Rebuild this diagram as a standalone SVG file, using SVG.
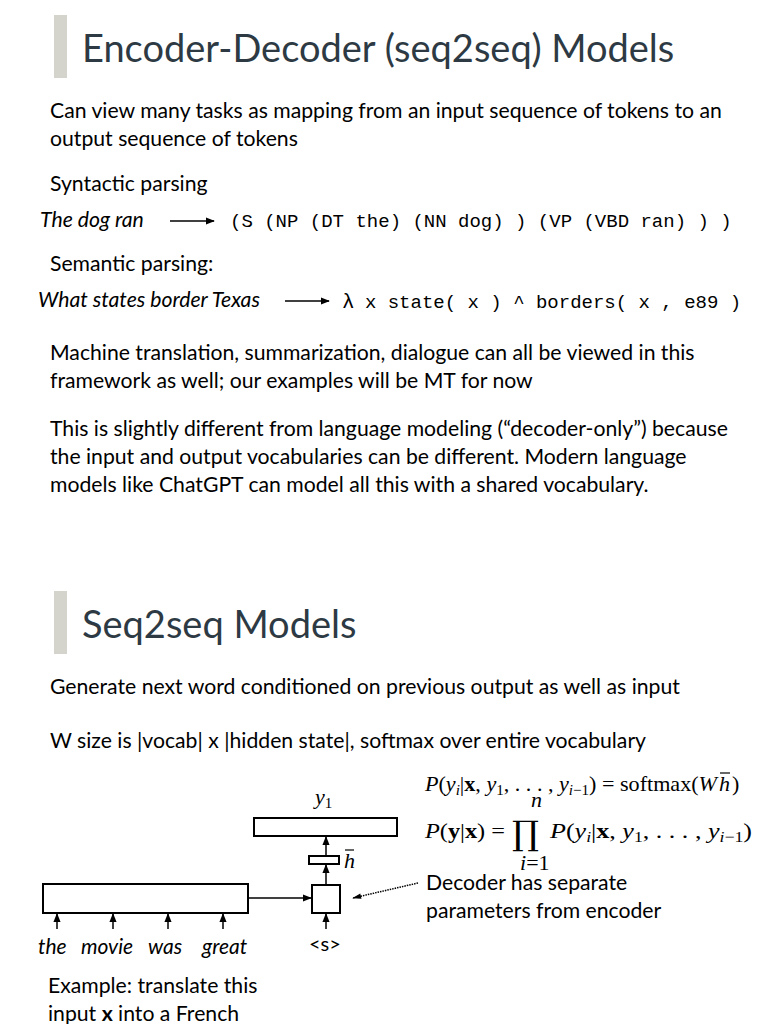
<svg xmlns="http://www.w3.org/2000/svg" width="768" height="1024" viewBox="0 0 768 1024">
<defs>
<marker id="ah" viewBox="0 0 10 10" refX="9" refY="5" markerWidth="6" markerHeight="6" orient="auto"><path d="M0,1 L10,5 L0,9 z" fill="#000"/></marker>
<marker id="ah2" viewBox="0 0 10 10" refX="9" refY="5" markerWidth="8" markerHeight="6" orient="auto"><path d="M0,2 L10,5 L0,8 z" fill="#000"/></marker>
</defs>
<style>
.t{font-family:Lato,"Open Sans",sans-serif;fill:#000}
.h{font-family:Lato,"Open Sans",sans-serif;font-size:38px;fill:#2d3a44}
.b{font-size:21.2px}
.i{font-style:italic}
.m{font-family:"Liberation Mono",monospace;font-size:19px}
.x{font-family:"Liberation Serif",serif;font-size:22px}
.bx{fill:#fff;stroke:#000;stroke-width:2}
.c{stroke:#000;stroke-width:1.5;fill:none}
</style>
<rect width="768" height="1024" fill="#fff"/>
<rect x="54" y="15" width="13" height="63" fill="#d4d4cc"/>
<text class="h" x="82" y="62">Encoder-Decoder (seq2seq) Models</text>
<text class="t b" x="50" y="118">Can view many tasks as mapping from an input sequence of tokens to an</text>
<text class="t b" x="50" y="146">output sequence of tokens</text>
<text class="t b" x="50" y="191">Syntactic parsing</text>
<text class="t b i" x="40" y="227">The dog ran</text>
<line class="c" x1="170" y1="221" x2="214" y2="221" marker-end="url(#ah)"/>
<text class="t m" x="230" y="227">(S (NP (DT the) (NN dog) ) (VP (VBD ran) ) )</text>
<text class="t b" x="50" y="271">Semantic parsing:</text>
<text class="t b i" x="38" y="307">What states border Texas</text>
<line class="c" x1="285" y1="301" x2="329" y2="301" marker-end="url(#ah)"/>
<text class="t m" x="343" y="308" font-size="20"><tspan font-family="Liberation Sans,sans-serif" font-size="21">λ</tspan> x state( x ) ^ borders( x , e89 )</text>
<text class="t b" x="50" y="360">Machine translation, summarization, dialogue can all be viewed in this</text>
<text class="t b" x="50" y="388">framework as well; our examples will be MT for now</text>
<text class="t b" x="50" y="436">This is slightly different from language modeling (“decoder-only”) because</text>
<text class="t b" x="50" y="464">the input and output vocabularies can be different. Modern language</text>
<text class="t b" x="50" y="492">models like ChatGPT can model all this with a shared vocabulary.</text>
<rect x="54" y="591" width="13" height="63" fill="#d4d4cc"/>
<text class="h" x="82" y="638">Seq2seq Models</text>
<text class="t b" x="50" y="694">Generate next word conditioned on previous output as well as input</text>
<text class="t b" x="50" y="748">W size is |vocab| x |hidden state|, softmax over entire vocabulary</text>
<g id="formulas">
<text class="t x" x="425" y="791" textLength="292" lengthAdjust="spacingAndGlyphs"><tspan font-style="italic">P</tspan>(<tspan font-style="italic">y</tspan><tspan font-size="15" font-style="italic" dy="4">i</tspan><tspan dy="-4">|</tspan><tspan font-weight="bold">x</tspan>, <tspan font-style="italic">y</tspan><tspan font-size="15" dy="4">1</tspan><tspan dy="-4">, . . . , </tspan><tspan font-style="italic">y</tspan><tspan font-size="15" dy="4" font-style="italic">i</tspan><tspan font-size="15">−1</tspan><tspan dy="-4">) = softmax(</tspan><tspan font-style="italic">W</tspan></text>
<text class="t x i" x="719" y="791">h</text>
<line x1="720" y1="773" x2="730" y2="773" stroke="#000" stroke-width="1.2"/>
<text class="t x" x="732" y="791">)</text>
<text class="t x" x="425" y="838" textLength="80" lengthAdjust="spacingAndGlyphs"><tspan font-style="italic">P</tspan>(<tspan font-weight="bold">y</tspan>|<tspan font-weight="bold">x</tspan>) =</text>
<text x="512" y="845" font-family="DejaVu Serif,serif" font-size="34">∏</text>
<text class="t x i" x="531" y="807" font-size="15">n</text>
<text class="t x" x="520" y="870" font-size="15"><tspan font-style="italic">i</tspan>=1</text>
<text class="t x" x="550" y="838" textLength="202" lengthAdjust="spacingAndGlyphs"><tspan font-style="italic">P</tspan>(<tspan font-style="italic">y</tspan><tspan font-size="15" font-style="italic" dy="4">i</tspan><tspan dy="-4">|</tspan><tspan font-weight="bold">x</tspan>, <tspan font-style="italic">y</tspan><tspan font-size="15" dy="4">1</tspan><tspan dy="-4">, . . . , </tspan><tspan font-style="italic">y</tspan><tspan font-size="15" dy="4" font-style="italic">i</tspan><tspan font-size="15">−1</tspan><tspan dy="-4">)</tspan></text>
</g>
<g id="y1"><text class="t x i" x="315" y="804">y<tspan font-size="15" font-style="normal" dy="4">1</tspan></text></g>
<g id="output"><rect class="bx" x="254" y="818" width="143" height="18"/></g>
<g id="hbar"><rect class="bx" x="309" y="856" width="30" height="8"/><text class="t x i" x="344" y="868">h</text><line x1="345" y1="850" x2="354" y2="850" stroke="#000" stroke-width="1.2"/></g>
<g id="decoder"><rect class="bx" x="312" y="885" width="28" height="28"/></g>
<g id="encoder"><rect class="bx" x="43" y="884" width="205" height="29"/></g>
<g id="labels">
<text class="t i" x="38" y="954" font-size="21">the</text>
<text class="t i" x="81" y="954" font-size="21">movie</text>
<text class="t i" x="148" y="954" font-size="21">was</text>
<text class="t i" x="202" y="954" font-size="21">great</text>
<text class="t" x="309" y="951" font-size="20">&lt;s&gt;</text>
<text class="t b" x="426" y="890">Decoder has separate</text>
<text class="t b" x="426" y="918">parameters from encoder</text>
<text class="t b" x="48" y="993">Example: translate this</text>
<text class="t b" x="48" y="1021">input <tspan font-weight="bold">x</tspan> into a French</text>
</g>
<g id="connectors">
<line class="c" x1="57" y1="929" x2="57" y2="914" marker-end="url(#ah)"/>
<line class="c" x1="113" y1="929" x2="113" y2="914" marker-end="url(#ah)"/>
<line class="c" x1="168" y1="929" x2="168" y2="914" marker-end="url(#ah)"/>
<line class="c" x1="223" y1="929" x2="223" y2="914" marker-end="url(#ah)"/>
<line class="c" x1="326" y1="929" x2="326" y2="914" marker-end="url(#ah)"/>
<line class="c" x1="248" y1="898" x2="311" y2="898" marker-end="url(#ah)"/>
<line class="c" x1="326" y1="885" x2="326" y2="865" marker-end="url(#ah)"/>
<line class="c" x1="326" y1="856" x2="326" y2="837" marker-end="url(#ah)"/>
<line x1="418" y1="883" x2="353" y2="898" stroke="#000" stroke-width="1.5" stroke-dasharray="1.5,1" marker-end="url(#ah2)"/>
</g>
</svg>
